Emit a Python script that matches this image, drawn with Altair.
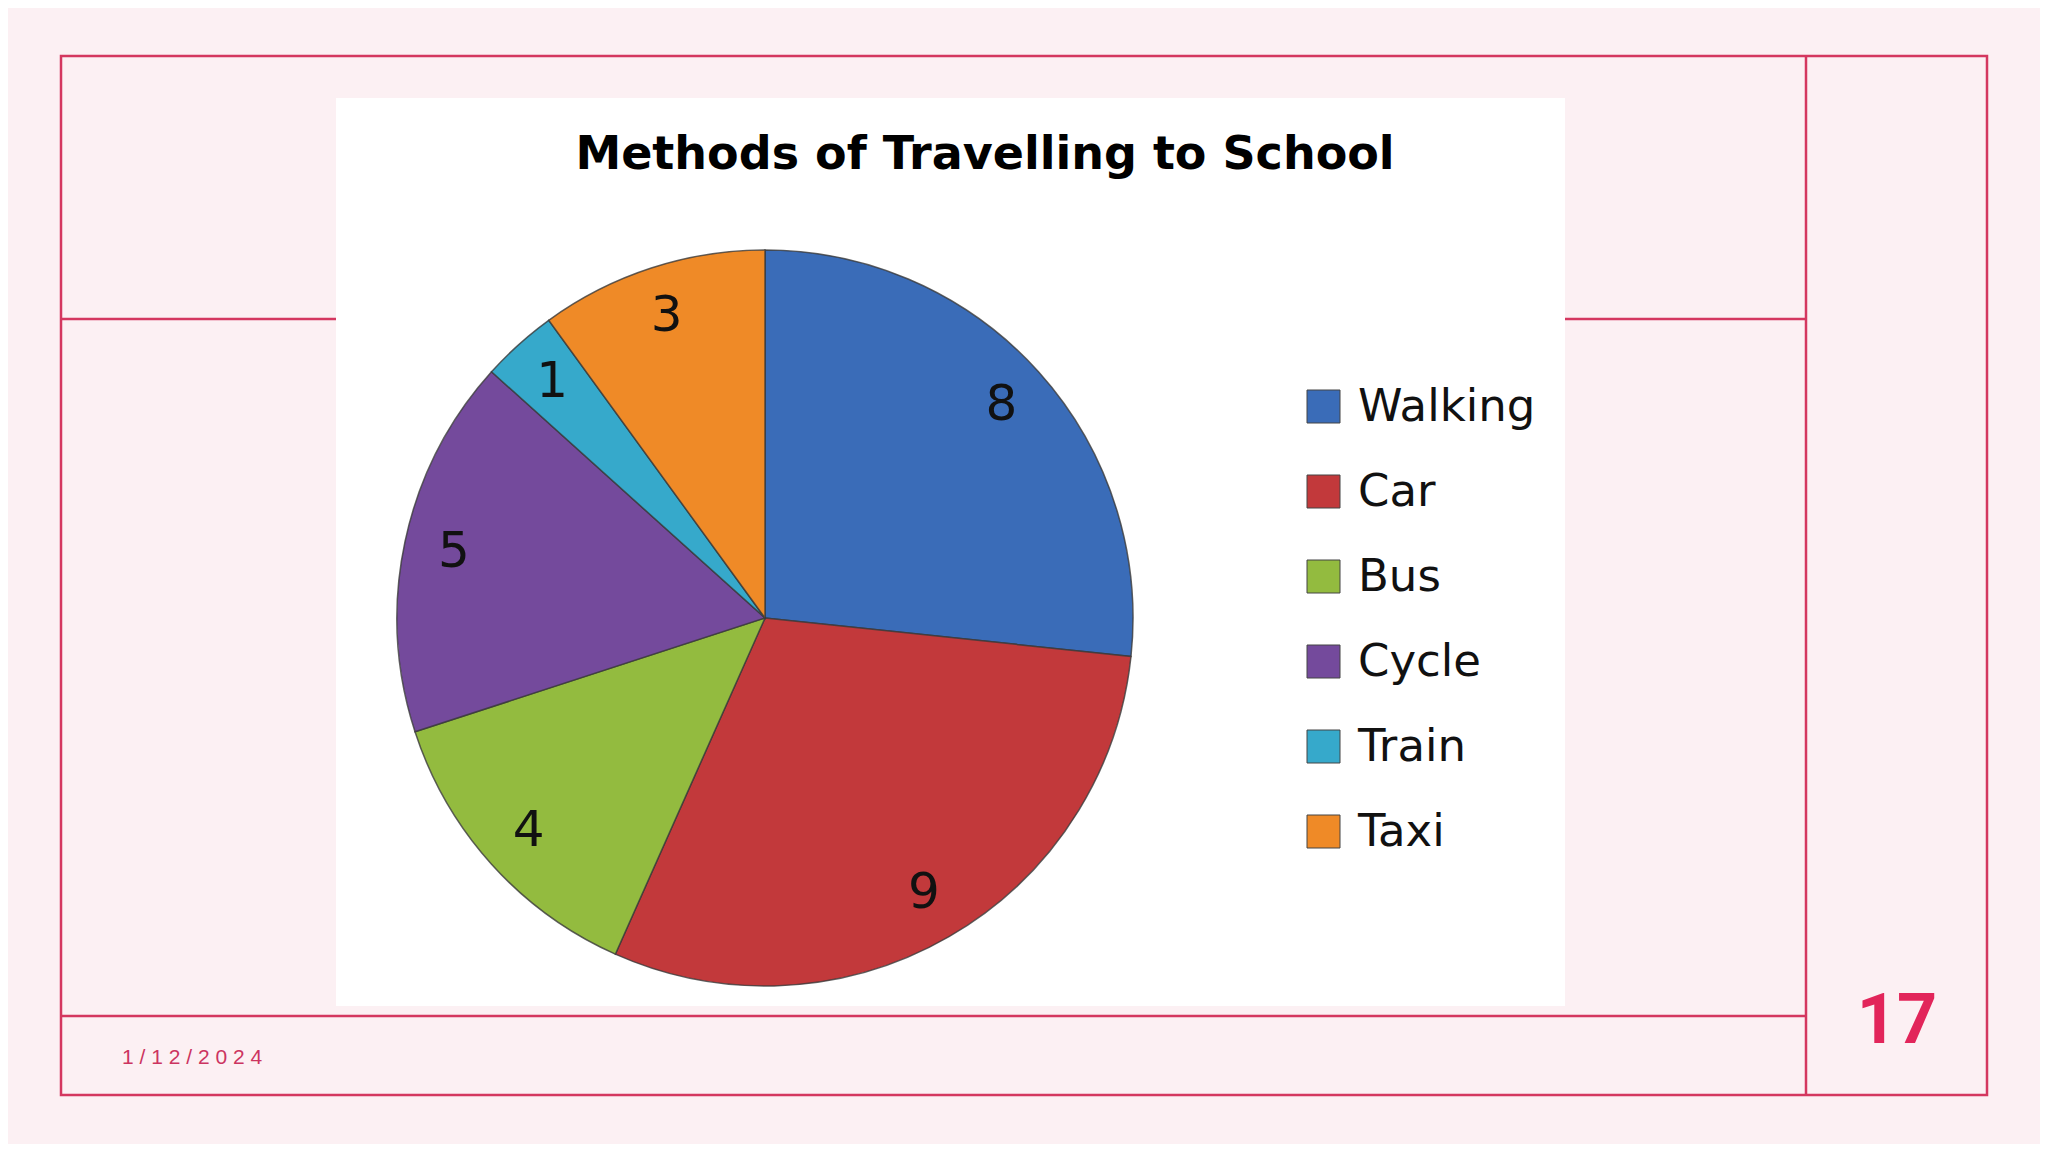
import altair as alt
import pandas as pd

# ---- data ----
categories = ["Walking", "Car", "Bus", "Cycle", "Train", "Taxi"]
counts = [8, 9, 4, 5, 1, 3]
colors = ["#3a6cb8", "#c2393b", "#93bb3f", "#744a9c", "#36a9cb", "#ef8a27"]
title_text = "Methods of Travelling to School"
date_text = "1 / 1 2 / 2 0 2 4"
page_number = "17"

df = pd.DataFrame({
    "method": categories,
    "count": counts,
    "order": list(range(len(categories))),
})

# ---- layout (chart coordinates; page = chart + 8px margin) ----
CX, CY = 757, 610
R = 368
LABEL_R = 318
FRAME = "#d4375f"
ACCENT = "#e2255a"
W, H = 2032, 1136

one = alt.Data(values=[{"k": 0}])


def hline(x1, x2, y):
    return alt.Chart(one).mark_rule(color=FRAME, strokeWidth=2.5).encode(
        x=alt.value(x1), x2=alt.value(x2), y=alt.value(y), y2=alt.value(y)
    )


def vline(x, y1, y2):
    return alt.Chart(one).mark_rule(color=FRAME, strokeWidth=2.5).encode(
        x=alt.value(x), x2=alt.value(x), y=alt.value(y1), y2=alt.value(y2)
    )


frame = alt.Chart(one).mark_rect(
    fill="#fcf0f3", fillOpacity=0, stroke=FRAME, strokeWidth=2.5
).encode(x=alt.value(53), x2=alt.value(1979), y=alt.value(48), y2=alt.value(1087))

white_box = alt.Chart(one).mark_rect(fill="white").encode(
    x=alt.value(328), x2=alt.value(1557), y=alt.value(90), y2=alt.value(998)
)

base = alt.Chart(df).encode(
    theta=alt.Theta("count:Q", stack=True),
    order=alt.Order("order:Q"),
    x=alt.value(CX),
    y=alt.value(CY),
)

pie = base.mark_arc(outerRadius=R, stroke="#3a3a3a", strokeWidth=1.5, strokeOpacity=0.8).encode(
    color=alt.Color(
        "method:N",
        scale=alt.Scale(domain=categories, range=colors),
        legend=alt.Legend(
            title=None,
            orient="none",
            legendX=1293,
            legendY=376,
            symbolType="square",
            symbolSize=1089,
            symbolStrokeColor="#444444",
            symbolStrokeWidth=1,
            symbolOpacity=1,
            labelFontSize=45,
            labelFont="DejaVu Sans",
            labelColor="#111111",
            labelOffset=12,
            labelLimit=400,
            rowPadding=39,
            padding=0,
        ),
    )
)

labels = base.mark_text(radius=LABEL_R, fontSize=50, font="DejaVu Sans", color="#111111").encode(
    text="count:Q"
)

title = alt.Chart(one).mark_text(
    text=title_text, font="DejaVu Sans", fontWeight="bold", fontSize=46,
    align="center", baseline="alphabetic", color="#000000"
).encode(x=alt.value(977), y=alt.value(161))

date = alt.Chart(one).mark_text(
    text=date_text, font="Liberation Sans", fontSize=21,
    align="left", baseline="alphabetic", color="#cc3460"
).encode(x=alt.value(114), y=alt.value(1056))

pnum = alt.Chart(one).mark_text(
    text=page_number, font="Roboto", fontWeight="bold", fontSize=70,
    align="center", baseline="alphabetic", color=ACCENT
).encode(x=alt.value(1889), y=alt.value(1035))

chart = alt.layer(
    hline(53, 1798, 311),
    hline(53, 1798, 1008),
    vline(1798, 48, 1087),
    frame,
    white_box,
    pie,
    labels,
    title,
    date,
    pnum,
).properties(
    width=W, height=H, padding=0, autosize="none", background="#fcf0f3"
).configure_view(stroke=None)

chart.save("out.html", embed_options={"renderer": "svg", "actions": False})
